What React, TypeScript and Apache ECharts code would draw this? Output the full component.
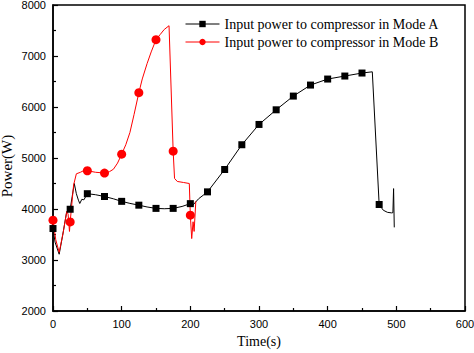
import React, { useEffect, useRef } from "react";
import * as echarts from "echarts";

const seriesNames = [
  "Input power to compressor in Mode A",
  "Input power to compressor in Mode B",
];

// Mode A: time (s) and power (W)
const modeATime = [
  0, 3, 9, 14, 20, 25, 28, 31, 34, 37, 39, 42, 45, 50, 62, 75, 88, 100, 112, 125,
  137, 150, 162, 175, 188, 200, 204, 212, 225, 250, 275, 300, 325, 350, 375, 400,
  425, 450, 465, 475, 481, 487, 493, 495, 496, 497,
];
const modeAPower = [
  3617, 3350, 3113, 3480, 3950, 3995, 4250, 4500, 4300, 4173, 4108, 4190, 4180,
  4300, 4280, 4245, 4200, 4150, 4110, 4075, 4040, 4012, 4005, 4012, 4050, 4105,
  4080, 4200, 4336, 4775, 5260, 5658, 5945, 6214, 6430, 6548, 6607, 6666, 6690,
  4088, 3976, 3935, 3924, 3928, 4400, 3640,
];

// Mode B: time (s) and power (W)
const modeBTime = [
  0, 4, 9, 15, 20, 22, 24, 25, 30, 34, 40, 44, 50, 62, 75, 82, 88, 94, 100, 106,
  112, 118, 125, 130, 137, 143, 150, 156, 162, 169, 175, 177, 181, 190, 198.5,
  200, 202, 204, 205.5, 208,
];
const modeBPower = [
  3780, 3400, 3150, 3550, 3950, 3900, 3560, 3747, 4470, 4690, 4720, 4748, 4750,
  4720, 4705, 4730, 4780, 4900, 5075, 5260, 5500, 5850, 6280, 6550, 6850, 7080,
  7320, 7420, 7520, 7594, 5134, 4600, 4540, 4520, 4500, 3878, 3420, 3750, 3560,
  4150,
];

// markers are drawn every 25 s
const markerStep = 25;

const xTicks = { min: 0, max: 600, interval: 100 };
const yTicks = { min: 2000, max: 8000, interval: 1000 };

function buildData(times: number[], values: number[]) {
  return times.map((t, i) => {
    const item: any = { value: [t, values[i]] };
    if (t % markerStep !== 0) item.symbol = "none";
    return item;
  });
}

export default function App() {
  const ref = useRef<HTMLDivElement>(null);
  useEffect(() => {
    document.body.style.margin = "0";
    const chart = echarts.init(ref.current!, null, { renderer: "svg" });
    const labelFont = {
      fontFamily: "'Liberation Sans', Arial, sans-serif",
      fontSize: 11,
      color: "#000",
    };
    const serif = "'Liberation Serif', 'Times New Roman', serif";
    chart.setOption({
      animation: false,
      backgroundColor: "#fff",
      grid: {
        left: 53,
        right: 9,
        top: 5,
        bottom: 42,
        containLabel: false,
        outerBoundsMode: "none",
        show: true,
        borderColor: "#000",
        borderWidth: 1.5,
        backgroundColor: "transparent",
      },
      legend: {
        orient: "vertical",
        left: 185,
        top: 17,
        padding: 0,
        itemGap: 4,
        itemWidth: 34,
        itemHeight: 8,
        lineStyle: { width: 1 },
        textStyle: { fontFamily: serif, fontSize: 14, color: "#000" },
        data: seriesNames,
      },
      xAxis: {
        type: "value",
        min: xTicks.min,
        max: xTicks.max,
        interval: xTicks.interval,
        name: "Time(s)",
        nameLocation: "middle",
        nameGap: 23,
        nameMoveOverlap: false,
        nameTextStyle: { fontFamily: serif, fontSize: 14, color: "#000" },
        axisLine: { show: true, lineStyle: { color: "#000", width: 1.5 } },
        axisTick: { show: true, inside: true, length: 5, lineStyle: { color: "#000", width: 1.2 } },
        minorTick: { show: true, splitNumber: 2, length: 3, lineStyle: { color: "#000", width: 1.2 } },
        axisLabel: { ...labelFont, margin: 7, formatter: (v: number) => String(v) },
        splitLine: { show: false },
      },
      yAxis: {
        type: "value",
        min: yTicks.min,
        max: yTicks.max,
        interval: yTicks.interval,
        name: "Power(W)",
        nameLocation: "middle",
        nameRotate: 90,
        nameGap: 39,
        nameMoveOverlap: false,
        nameTextStyle: {
          fontFamily: serif,
          fontSize: 15,
          color: "#000",
          padding: [0, 16, 0, 0],
        },
        axisLine: { show: true, lineStyle: { color: "#000", width: 1.5 } },
        axisTick: { show: true, inside: true, length: 5, lineStyle: { color: "#000", width: 1.2 } },
        minorTick: { show: true, splitNumber: 2, length: 3, lineStyle: { color: "#000", width: 1.2 } },
        axisLabel: { ...labelFont, margin: 7, formatter: (v: number) => String(v) },
        splitLine: { show: false },
      },
      series: [
        {
          name: seriesNames[0],
          type: "line",
          showAllSymbol: true,
          symbol: "rect",
          symbolSize: 7,
          color: "#000",
          lineStyle: { color: "#000", width: 1 },
          itemStyle: { color: "#000" },
          data: buildData(modeATime, modeAPower),
        },
        {
          name: seriesNames[1],
          type: "line",
          showAllSymbol: true,
          symbol: "circle",
          symbolSize: 9,
          color: "#ff0000",
          lineStyle: { color: "#ff0000", width: 1 },
          itemStyle: { color: "#ff0000" },
          data: buildData(modeBTime, modeBPower),
        },
      ],
    });
    return () => chart.dispose();
  }, []);
  return <div ref={ref} style={{ width: 474, height: 353 }} />;
}
